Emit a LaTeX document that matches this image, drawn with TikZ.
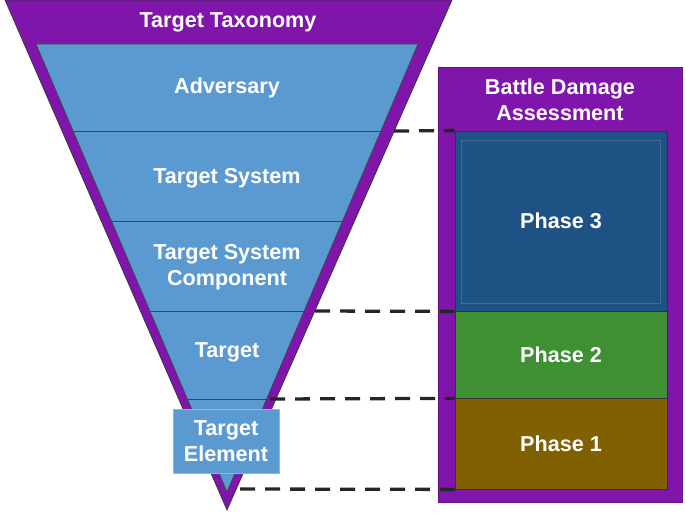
\documentclass[tikz,border=0pt]{standalone}
\usepackage{fontspec}
\setmainfont{Liberation Sans}
\usetikzlibrary{calc}
\definecolor{purp}{HTML}{7F15AA}
\definecolor{band}{HTML}{5B9AD0}
\definecolor{bandedge}{HTML}{1E4E6E}
\definecolor{ph3}{HTML}{1F5284}
\definecolor{ph2}{HTML}{3F8F33}
\definecolor{ph1}{HTML}{806000}
\begin{document}
\begin{tikzpicture}[x=1pt,y=-1pt,
  lbl/.style={text=white,font=\bfseries\fontsize{21.6}{26.5}\selectfont,align=center,inner sep=0pt},
  divider/.style={draw=bandedge,line width=0.9pt},
  phasebox/.style={draw=black!80,line width=0.8pt,minimum width=212pt,inner sep=0pt},
  dashline/.style={draw=black!85,line width=3.3pt,dash pattern=on 15pt off 10pt}]
\useasboundingbox (0,0) rectangle (685,512);
% outer triangle
\coordinate (OTL) at (5,0);
\coordinate (OTR) at (452,0);
\coordinate (OA) at (227,510);
\draw[fill=purp,draw=black!80,line width=0.7pt] (OTL) -- (OTR) -- (OA) -- cycle;
% inner blue triangle
\coordinate (ITL) at (36,44);
\coordinate (ITR) at (418,44);
\coordinate (IA) at (227,492);
\draw[fill=band,draw=black!75,line width=0.7pt] (ITL) -- (ITR) -- (IA) -- cycle;
\begin{scope}
  \clip (ITL) -- (ITR) -- (IA) -- cycle;
  \foreach \y in {131,221,311,399} \draw[divider] (0,\y) -- (460,\y);
\end{scope}
% labels
\node[lbl] (title) at (228,22) {Target Taxonomy};
\node[lbl] (adv) at (227,88) {Adversary};
\node[lbl] (tsys) at (227,178) {Target System};
\node[lbl] (tsc) at (227,267) {Target System\\Component};
\node[lbl] (tgt) at (227,352) {Target};
\node[draw=band!70!white,fill=band,line width=0.8pt,minimum width=106pt,minimum height=64pt,inner sep=0pt] (elem) at (226,441) {};
\node[lbl] (elemtxt) at (elem.center) {Target\\Element};
% right panel
\node[fill=purp,draw=purp!80!black,line width=0.7pt,minimum width=244pt,minimum height=435pt,inner sep=0pt] (bda) at (560,284.5) {};
\node[lbl] (bdatitle) at (560,100) {Battle Damage\\Assessment};
\node[phasebox,fill=ph3,minimum height=180pt] (p3) at (561,221) {};
\draw[draw=ph3!85!white,line width=1.2pt] ($(p3.north west)+(7,10)$) rectangle ($(p3.south east)+(-7,-8)$);
\node[lbl] (p3txt) at (p3.center) {Phase 3};
\node[phasebox,fill=ph2,minimum height=87pt] (p2) at (561,354.5) {};
\node[lbl] (p2txt) at (p2.center) {Phase 2};
\node[phasebox,fill=ph1,minimum height=91pt] (p1) at (561,443.5) {};
\node[lbl] (p1txt) at (p1.center) {Phase 1};
% dashed connectors
\coordinate (d1) at (394,131);
\coordinate (d2) at (315,311);
\coordinate (d3) at (270,399);
\coordinate (d4) at (240,489);
\draw[dashline] (d1) -- (p3.north west);
\draw[dashline] (d2) -- (p3.south west);
\draw[dashline] (d3) -- (p2.south west);
\draw[dashline] (d4) -- (p1.south west);
\end{tikzpicture}
\end{document}
